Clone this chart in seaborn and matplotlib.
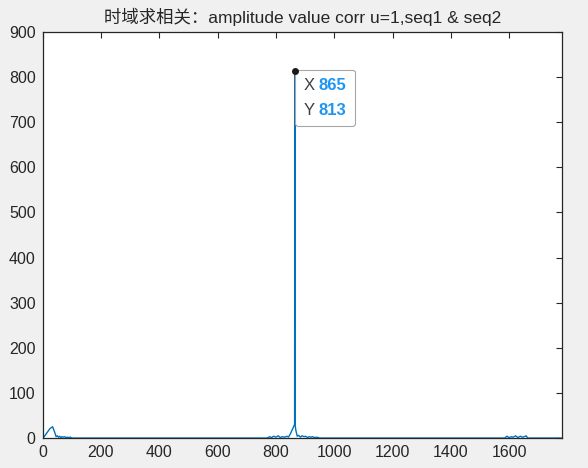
import matplotlib
matplotlib.use("Agg")
import matplotlib.pyplot as plt
import seaborn as sns
import pandas as pd
from matplotlib.offsetbox import TextArea, HPacker, VPacker, AnnotationBbox

# === Data ===
lag = [1, 5, 15, 25, 34, 40, 46, 50, 54, 58, 62, 66, 70, 75, 80, 85, 90, 95, 100,
       770, 778, 785, 792, 800, 808, 815, 822, 830, 838, 843, 850, 857, 864, 865,
       866, 868, 873, 878, 884, 890, 896, 902, 908, 914, 920, 926, 932, 940, 950,
       1585, 1592, 1600, 1608, 1615, 1622, 1630, 1638, 1645, 1652, 1658, 1664, 1779]
amp = [0, 3, 12, 21, 25, 15, 3, 5, 2, 4, 1, 3, 2, 3, 1, 2, 1, 2, 0,
       0, 3, 1, 4, 2, 5, 1, 3, 2, 4, 2, 10, 20, 30, 813,
       29, 18, 4, 6, 2, 5, 3, 4, 1, 3, 2, 3, 1, 2, 0,
       0, 4, 1, 3, 2, 5, 1, 4, 2, 3, 5, 0, 0]
peak_x = 865
peak_y = 813
x_ticks = list(range(0, 1601, 200))
y_ticks = list(range(0, 901, 100))
title = "时域求相关：amplitude value corr u=1,seq1 & seq2"

df = pd.DataFrame({"lag": lag, "amp": amp})

sns.set_style("white")
plt.rcParams['font.family'] = ['Liberation Sans', 'Noto Sans CJK SC', 'DejaVu Sans']

fig = plt.figure(figsize=(5.88, 4.68), dpi=100, facecolor="#f0f0f0")
ax = fig.add_axes([0.0726, 0.064, 0.8826, 0.868])
ax.set_facecolor("white")

sns.lineplot(data=df, x="lag", y="amp", ax=ax, sort=False, estimator=None,
             color="#0072BD", linewidth=1.0)

ax.set_xlim(0, 1780)
ax.set_ylim(0, 900)
ax.set_xticks(x_ticks)
ax.set_yticks(y_ticks)
ax.set_xlabel("")
ax.set_ylabel("")

axis_color = "#262626"
for s in ax.spines.values():
    s.set_visible(True)
    s.set_color(axis_color)
    s.set_linewidth(0.9)
ax.tick_params(direction="in", length=4, width=0.8, color=axis_color,
               top=True, right=True, labelsize=11.5, labelcolor="#262626", pad=5)

ax.set_title(title, fontsize=12.5, color="#262626", pad=6)

# data tip
ax.plot([peak_x], [peak_y], "o", color="#1a1a1a", markersize=4, zorder=5, clip_on=False)
lbl = dict(color="#404040", fontsize=12)
num = dict(color="#1e96f0", fontsize=12, fontweight="bold")
row1 = HPacker(children=[TextArea("X", textprops=lbl), TextArea(str(peak_x), textprops=num)],
               align="baseline", pad=0, sep=3)
row2 = HPacker(children=[TextArea("Y", textprops=lbl), TextArea(str(peak_y), textprops=num)],
               align="baseline", pad=0, sep=3)
tip = VPacker(children=[row1, row2], align="left", pad=0, sep=7)
ab = AnnotationBbox(tip, (peak_x, peak_y), xybox=(6, -5), boxcoords="offset points",
                    box_alignment=(0, 1), frameon=True, pad=0.6,
                    bboxprops=dict(boxstyle="round,pad=0.6,rounding_size=0.2",
                                   fc="white", ec="#a6a6a6", lw=0.8))
ax.add_artist(ab)

fig.savefig("out.png", dpi=100, facecolor=fig.get_facecolor())
